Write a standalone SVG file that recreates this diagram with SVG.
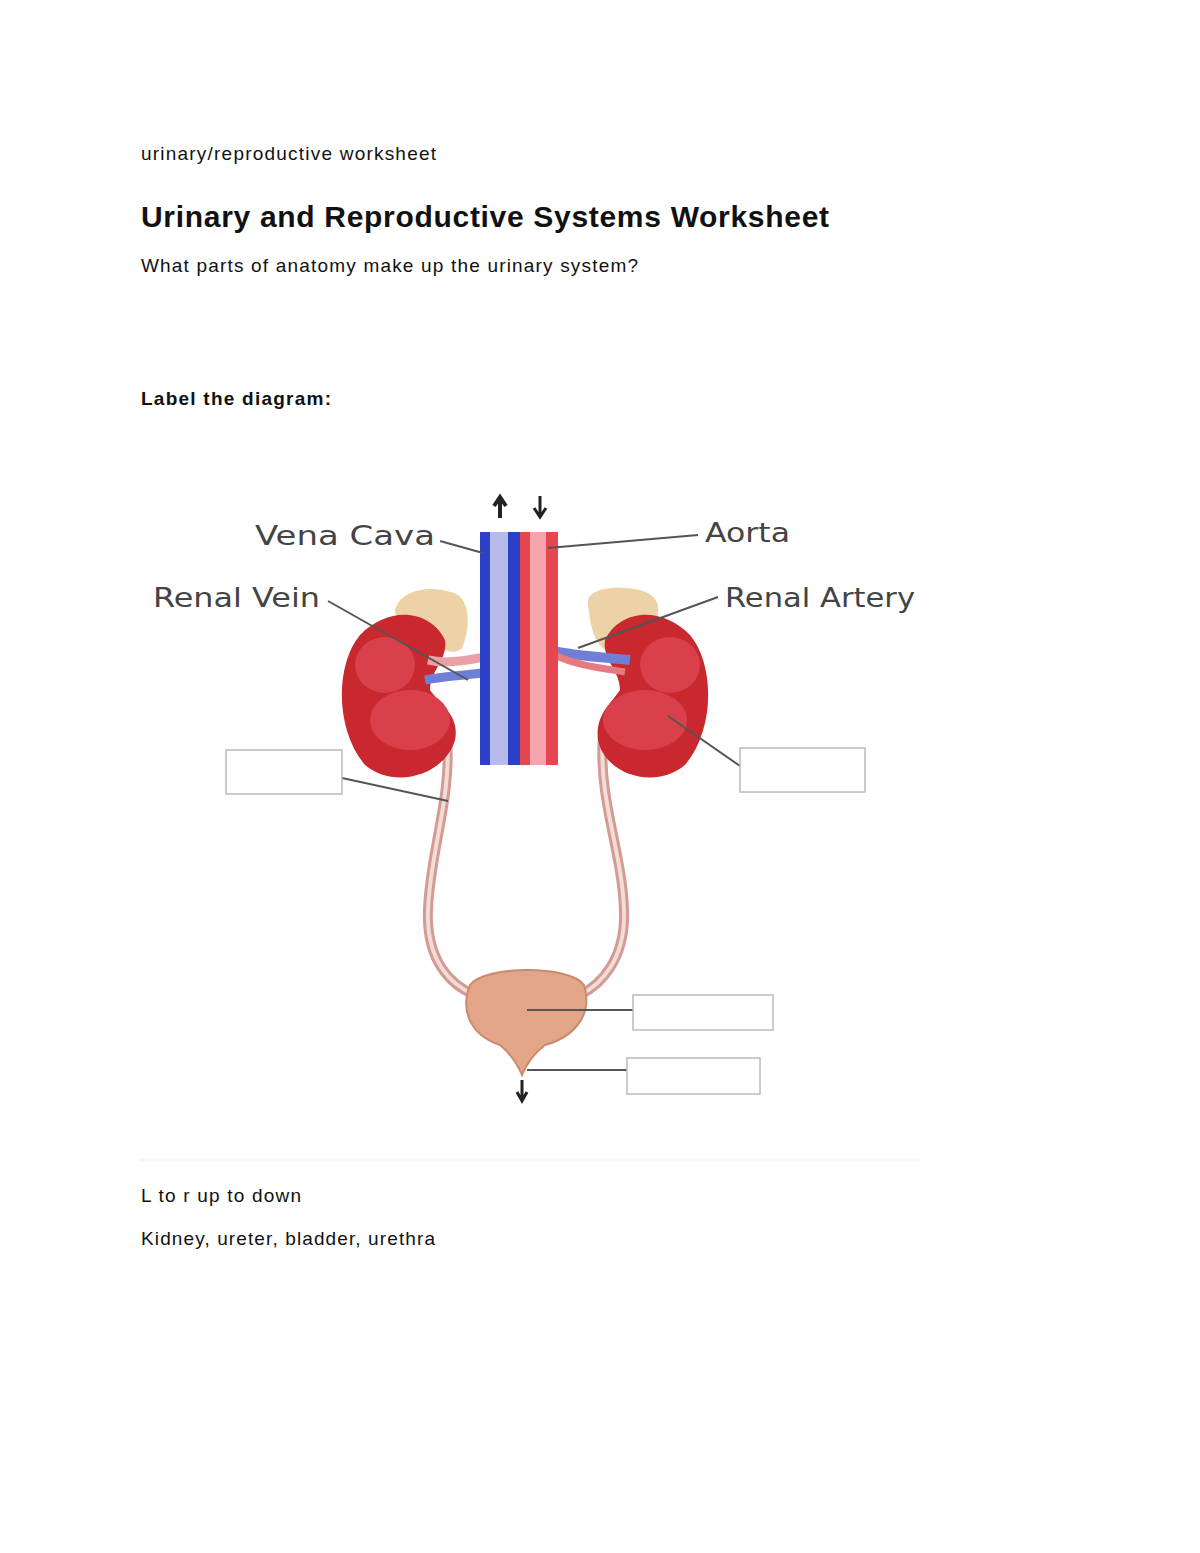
<svg xmlns="http://www.w3.org/2000/svg" width="1200" height="1553" viewBox="0 0 1200 1553">
<style>
.t{font-family:"Liberation Sans",Arial,sans-serif;fill:#111}
.lab{font-family:"DejaVu Sans","Liberation Sans",sans-serif;font-size:26px;fill:#444}
.ptr{stroke:#555;stroke-width:2;fill:none}
.box{fill:#fff;stroke:#bbb;stroke-width:1.5}
.kid{fill:#c8282e}
.kidl{fill:#d9404c}
.adr{fill:#ecd2a6}
.ur{fill:none;stroke:#d49a94;stroke-width:10;stroke-linecap:round}
.urin{fill:none;stroke:#f1dcd8;stroke-width:4}
</style>
<rect width="1200" height="1553" fill="#fff"/>
<text class="t" x="141" y="160" font-size="19" textLength="295" lengthAdjust="spacing">urinary/reproductive worksheet</text>
<text class="t" x="141" y="227" font-size="30" font-weight="bold" textLength="688" lengthAdjust="spacing">Urinary and Reproductive Systems Worksheet</text>
<text class="t" x="141" y="272" font-size="19" textLength="497" lengthAdjust="spacing">What parts of anatomy make up the urinary system?</text>
<text class="t" x="141" y="405" font-size="19" font-weight="bold" textLength="190" lengthAdjust="spacing">Label the diagram:</text>

<g id="anatomy">
<path class="ur" d="M447 735 C452 800 430 850 428 910 C426 960 450 985 475 995"/>
<path class="urin" d="M447 735 C452 800 430 850 428 910 C426 960 450 985 475 995"/>
<path class="ur" d="M603 735 C598 800 622 850 624 910 C626 960 600 985 580 995"/>
<path class="urin" d="M603 735 C598 800 622 850 624 910 C626 960 600 985 580 995"/>
<path d="M470 985 C460 1010 470 1035 500 1045 C512 1055 518 1065 522 1075 C526 1065 532 1055 545 1045 C580 1035 592 1010 584 985 C570 965 485 965 470 985 Z" fill="#e3a587" stroke="#c98a6e" stroke-width="2"/>
<path class="adr" d="M395 610 C400 590 430 585 450 592 C470 595 472 625 462 648 C450 660 430 640 418 628 C405 622 395 620 395 610 Z"/>
<path class="adr" d="M588 605 C585 588 615 585 640 590 C662 596 660 612 655 622 C640 630 620 640 605 650 C592 640 590 620 588 605 Z"/>
<path class="kid" d="M360 635 C390 605 430 610 445 640 C448 660 430 670 430 690 C440 705 460 715 455 740 C445 775 395 790 365 765 C335 730 335 665 360 635 Z"/>
<ellipse class="kidl" cx="410" cy="720" rx="40" ry="30"/>
<ellipse class="kidl" cx="385" cy="665" rx="30" ry="28"/>
<path class="kid" d="M690 635 C660 605 620 610 605 640 C602 660 620 670 620 690 C610 705 595 715 598 740 C605 775 655 790 685 765 C715 730 715 665 690 635 Z"/>
<ellipse class="kidl" cx="645" cy="720" rx="42" ry="30"/>
<ellipse class="kidl" cx="670" cy="665" rx="30" ry="28"/>
<path d="M428 660 C450 665 470 660 520 650" stroke="#eaa0a6" stroke-width="9" fill="none"/>
<path d="M425 680 C450 675 470 676 500 670" stroke="#6f7fd6" stroke-width="9" fill="none"/>
<path d="M520 635 C540 655 580 655 630 660" stroke="#6f7fd6" stroke-width="10" fill="none"/>
<path d="M555 655 C575 665 600 668 625 672" stroke="#e57a80" stroke-width="7" fill="none"/>
<rect x="518" y="532" width="40" height="233" fill="#e6464e"/>
<rect x="530" y="532" width="16" height="233" fill="#f4a4ac"/>
<rect x="480" y="532" width="40" height="233" fill="#2c3fc8"/>
<rect x="490" y="532" width="18" height="233" fill="#b6bbe8"/>
<path d="M500 518 V500 M494 506 L500 497 L506 506" stroke="#222" stroke-width="4" fill="none"/>
<path d="M540 496 V514 M534 508 L540 517 L546 508" stroke="#222" stroke-width="3" fill="none"/>
<path d="M522 1080 V1098 M517 1092 L522 1101 L527 1092" stroke="#222" stroke-width="3" fill="none"/>
</g>

<g id="labels">
<text class="lab" x="255" y="545" textLength="180" lengthAdjust="spacingAndGlyphs">Vena Cava</text>
<text class="lab" x="705" y="542" textLength="85" lengthAdjust="spacingAndGlyphs">Aorta</text>
<text class="lab" x="153" y="607" textLength="167" lengthAdjust="spacingAndGlyphs">Renal Vein</text>
<text class="lab" x="725" y="607" textLength="190" lengthAdjust="spacingAndGlyphs">Renal Artery</text>
</g>

<g id="connectors">
<line class="ptr" x1="440" y1="541" x2="483" y2="553"/>
<line class="ptr" x1="698" y1="535" x2="548" y2="548"/>
<line class="ptr" x1="328" y1="601" x2="468" y2="680"/>
<line class="ptr" x1="718" y1="597" x2="578" y2="648"/>
<line class="ptr" x1="342" y1="778" x2="448" y2="801"/>
<line class="ptr" x1="668" y1="716" x2="740" y2="766"/>
<line class="ptr" x1="527" y1="1010" x2="633" y2="1010"/>
<line class="ptr" x1="527" y1="1070" x2="627" y2="1070"/>
</g>

<g id="boxes">
<rect class="box" x="226" y="750" width="116" height="44"/>
<rect class="box" x="740" y="748" width="125" height="44"/>
<rect class="box" x="633" y="995" width="140" height="35"/>
<rect class="box" x="627" y="1058" width="133" height="36"/>
</g>

<line x1="140" y1="1160" x2="920" y2="1160" stroke="#eee" stroke-width="1"/>
<text class="t" x="141" y="1202" font-size="19" textLength="160" lengthAdjust="spacing">L to r up to down</text>
<text class="t" x="141" y="1245" font-size="19" textLength="294" lengthAdjust="spacing">Kidney, ureter, bladder, urethra</text>
</svg>
